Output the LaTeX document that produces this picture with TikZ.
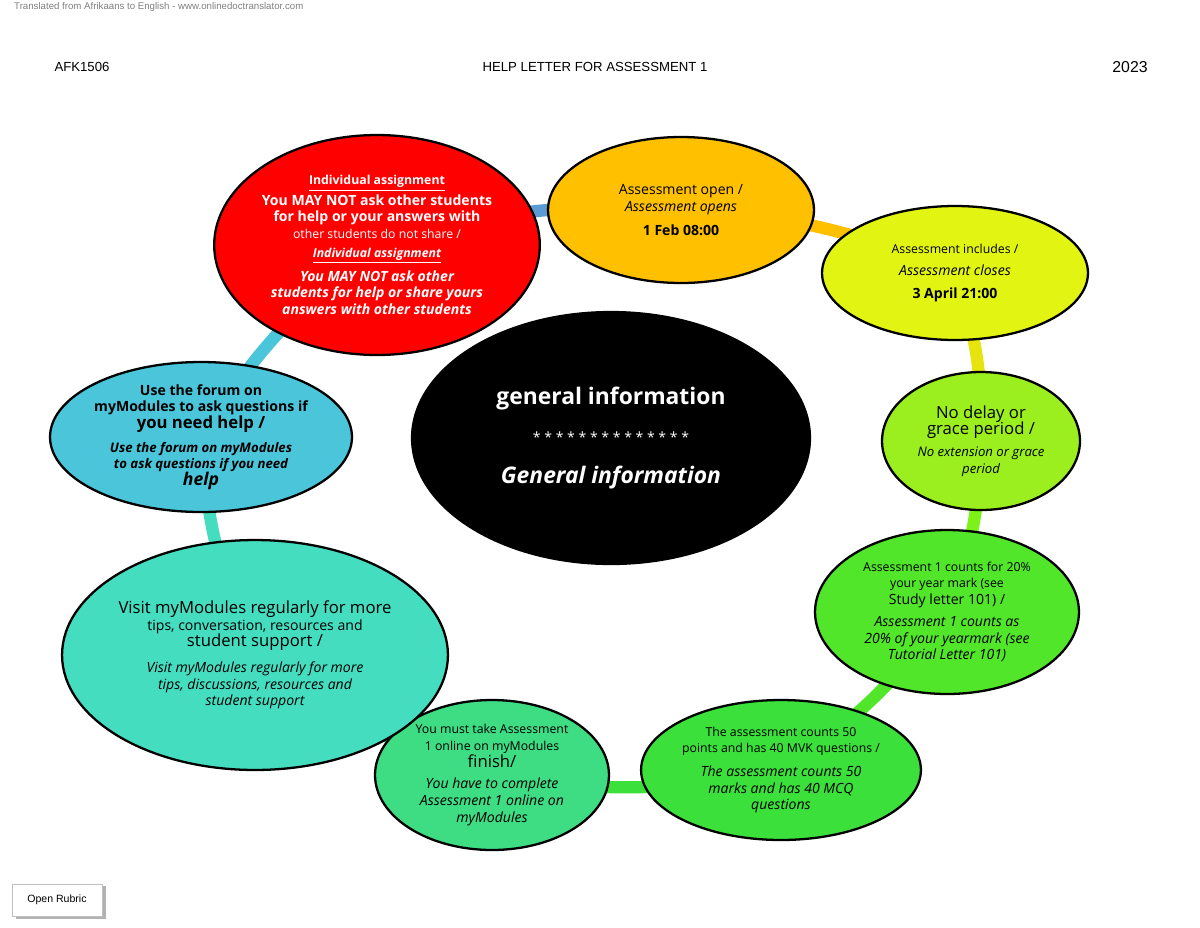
\documentclass[tikz,border=0pt]{standalone}
\usepackage{fontspec}
\setmainfont{Open Sans}
\newfontfamily\hdr{Liberation Sans}
\usetikzlibrary{shapes.geometric}
\definecolor{cRed}{HTML}{FF0000}
\definecolor{cOrange}{HTML}{FFC000}
\definecolor{cYellow}{HTML}{E2F512}
\definecolor{cLime}{HTML}{9BEF1E}
\definecolor{cGreenA}{HTML}{52E62A}
\definecolor{cGreenB}{HTML}{3BE03B}
\definecolor{cGreenC}{HTML}{3EDC83}
\definecolor{cTeal}{HTML}{45DDC0}
\definecolor{cBlue}{HTML}{4BC5D9}
\definecolor{cRing}{HTML}{5B9BD5}
\tikzset{
  bubble/.style={shape=ellipse,draw=black,line width=1.3pt,inner sep=0pt,align=center,font=\fontsize{7}{9.5}\selectfont},
  ring/.style={line width=7pt}
}
\begin{document}
\begin{tikzpicture}[x=0.02cm,y=-0.02cm]
\useasboundingbox (0,0) rectangle (1200,927);
\fill[white] (0,0) rectangle (1200,927);
% header
\node[anchor=west,font=\hdr\fontsize{5.5}{6}\selectfont,text=gray] (banner) at (8,7) {Translated from Afrikaans to English - www.onlinedoctranslator.com};
\node[font=\hdr\fontsize{7.5}{9}\selectfont] (code) at (82,67) {AFK1506};
\node[font=\hdr\fontsize{7.5}{9}\selectfont] (title) at (595,67) {HELP LETTER FOR ASSESSMENT 1};
\node[font=\hdr\fontsize{9}{10}\selectfont] (year) at (1130,67) {2023};
% ring
\coordinate (pRed) at (377,245);
\coordinate (pOra) at (681,210);
\coordinate (pYel) at (955,273);
\coordinate (pLim) at (981,441);
\coordinate (pGrA) at (947,612);
\coordinate (pGrB) at (781,770);
\coordinate (pGrC) at (492,775);
\coordinate (pTea) at (255,655);
\coordinate (pBlu) at (201,437);
\draw[ring,cRing] (pRed) to[bend left=10] (pOra);
\draw[ring,cOrange] (pOra) to[bend left=10] (pYel);
\draw[ring,cYellow!85!orange] (pYel) to[bend left=10] (pLim);
\draw[ring,cLime!80!green] (pLim) to[bend left=10] (pGrA);
\draw[ring,cGreenA] (pGrA) to[bend left=10] (pGrB);
\draw[ring,cGreenB] (pGrB) to[bend left=10] (pGrC);
\draw[ring,cGreenC] (pGrC) to[bend left=10] (pTea);
\draw[ring,cTeal] (pTea) to[bend left=10] (pBlu);
\draw[ring,cBlue] (pBlu) to[bend left=10] (pRed);
% bubbles
\node[bubble,fill=black,text=white,minimum width=7.96cm,minimum height=5.04cm] (centre) at (611,438)
  {{\fontsize{13}{16}\selectfont\bfseries general information}\\[12pt]
   {\fontsize{8}{10}\selectfont * * * * * * * * * * * * * *}\\[12pt]
   {\fontsize{13}{16}\selectfont\bfseries\itshape General information}};
\node[bubble,fill=cRed,text=white,minimum width=6.28cm,minimum height=4.4cm] (indiv) at (377,245)
  {{\bfseries\underline{Individual assignment}}\\[1pt]
   {\fontsize{8}{10.5}\selectfont\bfseries You MAY NOT ask other students}\\
   {\fontsize{8}{10.5}\selectfont\bfseries for help or your answers with}\\
   other students do not share /\\[1pt]
   {\bfseries\itshape\underline{Individual assignment}}\\[3pt]
   {\fontsize{8}{10.5}\selectfont\bfseries\itshape You MAY NOT ask other}\\
   {\fontsize{8}{10.5}\selectfont\bfseries\itshape students for help or share yours}\\
   {\fontsize{8}{10.5}\selectfont\bfseries\itshape answers with other students}};
\node[bubble,fill=cOrange,minimum width=5.32cm,minimum height=2.92cm] (open) at (681,210)
  {{\fontsize{8}{10.5}\selectfont Assessment open /}\\
   {\fontsize{8}{10.5}\selectfont\itshape Assessment opens}\\[4pt]
   {\fontsize{8}{10.5}\selectfont\bfseries 1 Feb 08:00}};
\node[bubble,fill=cYellow,minimum width=5.32cm,minimum height=2.68cm] (close) at (955,273)
  {Assessment includes /\\[3pt]
   {\fontsize{8}{10.5}\selectfont\itshape Assessment closes}\\[4pt]
   {\fontsize{8}{10.5}\selectfont\bfseries 3 April 21:00}};
\node[bubble,fill=cLime,minimum width=3.96cm,minimum height=2.76cm] (delay) at (981,441)
  {{\fontsize{9.5}{11}\selectfont No delay or}\\
   {\fontsize{9.5}{11}\selectfont grace period /}\\[3pt]
   {\fontsize{7.5}{9.5}\selectfont\itshape No extension or grace}\\
   {\fontsize{7.5}{9.5}\selectfont\itshape period}};
\node[bubble,fill=cGreenA,minimum width=5.28cm,minimum height=3.28cm] (counts) at (947,612)
  {Assessment 1 counts for 20\%\\
   your year mark (see\\
   {\fontsize{8}{10.5}\selectfont Study letter 101) /}\\[3pt]
   {\fontsize{8}{10.5}\selectfont\itshape Assessment 1 counts as}\\
   {\fontsize{8}{10.5}\selectfont\itshape 20\% of your yearmark (see}\\
   {\fontsize{8}{10.5}\selectfont\itshape Tutorial Letter 101)}};
\node[bubble,fill=cGreenB,minimum width=5.56cm,minimum height=2.8cm] (marks) at (781,770)
  {The assessment counts 50\\
   points and has 40 MVK questions /\\[4pt]
   {\fontsize{8}{10.5}\selectfont\itshape The assessment counts 50}\\
   {\fontsize{8}{10.5}\selectfont\itshape marks and has 40 MCQ}\\
   {\fontsize{8}{10.5}\selectfont\itshape questions}};
\node[bubble,fill=cGreenC,minimum width=4.68cm,minimum height=3.0cm] (online) at (492,775)
  {You must take Assessment\\
   1 online on myModules\\
   {\fontsize{9.5}{11}\selectfont finish/}\\[3pt]
   {\fontsize{8}{10.5}\selectfont\itshape You have to complete}\\
   {\fontsize{8}{10.5}\selectfont\itshape Assessment 1 online on}\\
   {\fontsize{8}{10.5}\selectfont\itshape myModules}};
\node[bubble,fill=cTeal,minimum width=7.6cm,minimum height=4.6cm] (visit) at (255,655)
  {{\fontsize{9.5}{11.5}\selectfont Visit myModules regularly for more}\\
   {\fontsize{8}{10.5}\selectfont tips, conversation, resources and}\\
   {\fontsize{9.5}{11.5}\selectfont student support /}\\[5pt]
   {\fontsize{8}{10.5}\selectfont\itshape Visit myModules regularly for more}\\
   {\fontsize{8}{10.5}\selectfont\itshape tips, discussions, resources and}\\
   {\fontsize{8}{10.5}\selectfont\itshape student support}};
\node[bubble,fill=cBlue,minimum width=5.92cm,minimum height=3.0cm] (forum) at (201,437)
  {{\fontsize{8}{10.5}\selectfont\bfseries Use the forum on}\\
   {\fontsize{8}{10.5}\selectfont\bfseries myModules to ask questions if}\\
   {\fontsize{9.5}{11}\selectfont\bfseries you need help /}\\[4pt]
   {\fontsize{7.5}{10}\selectfont\bfseries\itshape Use the forum on myModules}\\
   {\fontsize{7.5}{10}\selectfont\bfseries\itshape to ask questions if you need}\\
   {\fontsize{10}{11}\selectfont\bfseries\itshape help}};
% rubric button
\fill[gray!60] (16,886) rectangle (106,919);
\node[draw=gray!50,fill=white,minimum width=1.8cm,minimum height=0.64cm,inner sep=0pt,font=\hdr\fontsize{6}{7}\selectfont] (rubric) at (57,900) {Open Rubric};
\end{tikzpicture}
\end{document}
